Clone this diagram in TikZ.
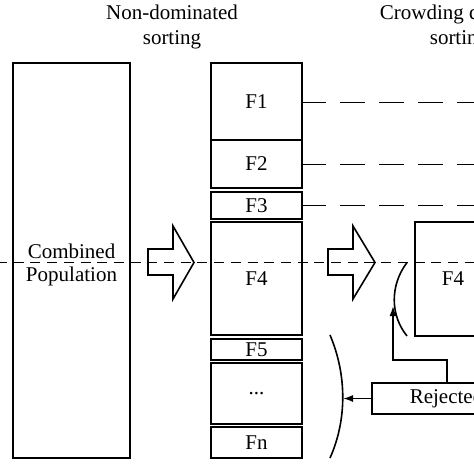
\documentclass[tikz,border=0pt]{standalone}
\usepackage{fontspec}
\setmainfont{Liberation Serif}
\usetikzlibrary{arrows.meta}
\begin{document}
\begin{tikzpicture}[x=1pt,y=-1pt,
  txt/.style={font=\fontsize{21}{24}\selectfont, inner sep=0pt},
  box/.style={draw, line width=1.6pt, inner sep=0pt, txt},
  col/.style={box, minimum width=91pt},
  fdash/.style={line width=1.6pt, dash pattern=on 25pt off 14pt, dash phase=2pt},
  mdash/.style={line width=1.6pt, dash pattern=on 10pt off 6.7pt, dash phase=3pt},
  blockarrow/.style={line width=1.6pt, line join=miter},
  curve/.style={line width=1.6pt},
  conn/.style={line width=1.6pt, -{Latex[length=10pt,width=7pt]}}]
\useasboundingbox (0,0) rectangle (474,474);
\clip (0,0) rectangle (474,474);

% titles
\node[txt, anchor=base] (t1a) at (172,19.5) {Non-dominated};
\node[txt, anchor=base] (t1b) at (172,44) {sorting};
\node[txt, anchor=base] (t2a) at (459,19.5) {Crowding distance};
\node[txt, anchor=base] (t2b) at (459,44) {sorting};

% middle dashed line
\coordinate (ml) at (0,262.5);
\coordinate (mr) at (480,262.5);
\draw[mdash] (ml) -- (mr);

% combined population
\node[box, minimum width=117pt, minimum height=395pt] (comb) at (71.5,260.5) {};
\node[txt, anchor=base] (cb1) at (71.5,258) {Combined};
\node[txt, anchor=base] (cb2) at (71.5,281) {Population};

% fronts
\node[col, minimum height=77pt] (f1) at (256.5,101.5) {F1};
\node[col, minimum height=48pt] (f2) at (256.5,164) {F2};
\node[col, minimum height=27pt] (f3) at (256.5,205.5) {F3};
\node[col, minimum height=113pt] (f4) at (256.5,278.5) {F4};
\node[col, minimum height=21pt] (f5) at (256.5,349.5) {F5};
\node[col, minimum height=61pt] (fd) at (256.5,393.5) {...};
\node[col, minimum height=31pt] (fn) at (256.5,442.5) {Fn};

% dashed lines from F1-F3
\coordinate (e1) at (480,102.5);
\coordinate (e2) at (480,164.5);
\coordinate (e3) at (480,205.5);
\draw[fdash] (f1.east |- e1) -- (e1);
\draw[fdash] (f2.east |- e2) -- (e2);
\draw[fdash] (f3.east) -- (e3);

% block arrows
\draw[blockarrow] (148,249) -- (173,249) -- (173,226) -- (194,262.5) -- (173,299) -- (173,275) -- (148,275) -- cycle;
\draw[blockarrow] (328,249) -- (353,249) -- (353,226) -- (375,262.5) -- (353,299) -- (353,275) -- (328,275) -- cycle;

% right F4 box
\node[box, minimum width=76pt, minimum height=114pt] (rf4) at (453,279) {F4};

% rejected box
\node[box, minimum width=149pt, minimum height=31pt] (rej) at (446.5,398.5) {Rejected};

% arcs
\coordinate (a1) at (407,262.5);
\coordinate (a2) at (407,336);
\draw[curve] (a1) .. controls (390,285) and (390,315) .. (a2);
\coordinate (b1) at (330,335);
\coordinate (b2) at (330,458);
\draw[curve] (b1) .. controls (347,375) and (347,420) .. (b2);

% connectors
\coordinate (bend) at (393,360);
\coordinate (tip1) at (393,306);
\coordinate (tip2) at (343,398.5);
\draw[conn] (rej.north -| 447,0) |- (bend) -- (tip1);
\draw[conn] (rej.west) -- (tip2);
\end{tikzpicture}
\end{document}
